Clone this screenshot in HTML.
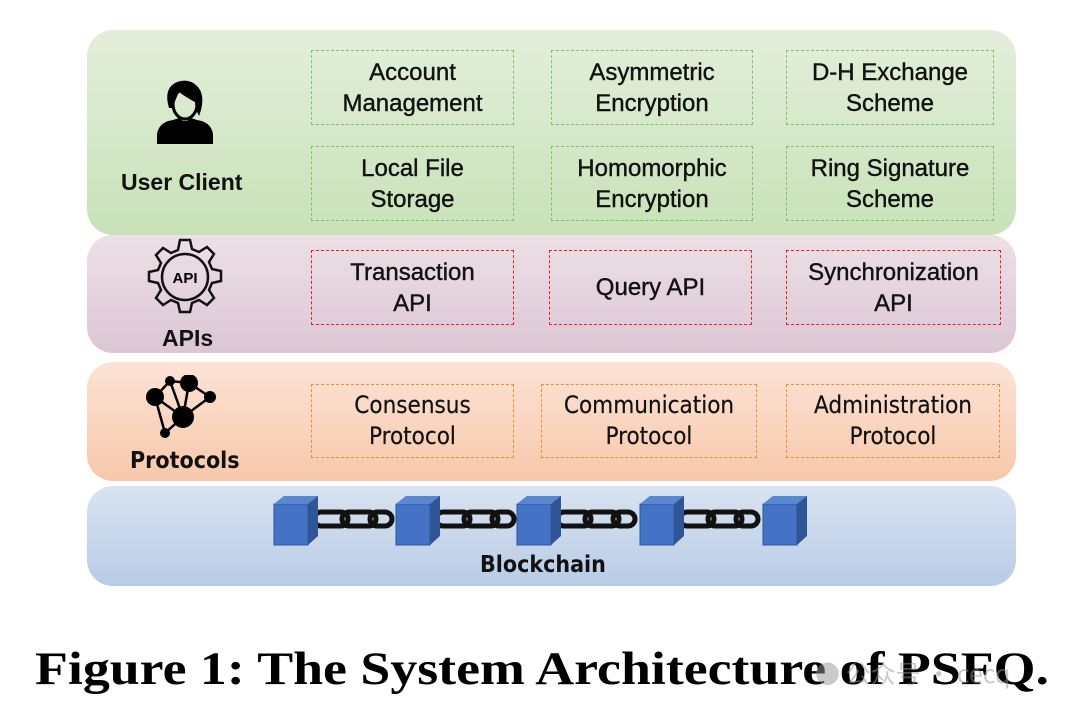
<!DOCTYPE html>
<html><head><meta charset="utf-8"><style>
body{margin:0;width:1080px;height:725px;background:#fff;position:relative;overflow:hidden;font-family:"Liberation Sans","DejaVu Sans",sans-serif}
.layer{position:absolute;left:87px;width:929px;border-radius:26px}
.box{position:absolute;display:flex;align-items:center;justify-content:center;text-align:center;font-size:24px;line-height:31px;color:#111;box-sizing:border-box;-webkit-text-stroke:0.4px #111}
.g{border:1.5px dashed #7cc36a;height:75px}
.p{border:1.5px dashed #e8212a;height:75px}
.o{border:1.5px dashed #f08a3c;height:74px;font-family:"DejaVu Sans Condensed","Liberation Sans Narrow","Liberation Sans",sans-serif;-webkit-text-stroke:0.2px #111}
.lab{position:absolute;font-weight:bold;font-size:23px;color:#111}
</style></head><body>
<div class="layer" style="top:30px;height:205px;background:linear-gradient(#e3eedb,#c8e2b8)"></div>
<div class="layer" style="top:235px;height:118px;background:linear-gradient(#ede0e6,#dcc6d4)"></div>
<div class="layer" style="top:362px;height:119px;background:linear-gradient(#fce3d6,#f7c8aa)"></div>
<div class="layer" style="top:486px;height:100px;background:linear-gradient(#d9e3f1,#b8cbe6)"></div>

<div class="box g" style="left:311px;top:50px;width:203px">Account<br>Management</div>
<div class="box g" style="left:551px;top:50px;width:202px">Asymmetric<br>Encryption</div>
<div class="box g" style="left:786px;top:50px;width:208px">D-H Exchange<br>Scheme</div>
<div class="box g" style="left:311px;top:146px;width:203px">Local File<br>Storage</div>
<div class="box g" style="left:551px;top:146px;width:202px">Homomorphic<br>Encryption</div>
<div class="box g" style="left:786px;top:146px;width:208px">Ring Signature<br>Scheme</div>

<div class="box p" style="left:311px;top:250px;width:203px">Transaction<br>API</div>
<div class="box p" style="left:549px;top:250px;width:203px">Query API</div>
<div class="box p" style="left:786px;top:250px;width:215px">Synchronization<br>API</div>

<div class="box o" style="left:311px;top:384px;width:203px">Consensus<br>Protocol</div>
<div class="box o" style="left:541px;top:384px;width:216px">Communication<br>Protocol</div>
<div class="box o" style="left:786px;top:384px;width:214px">Administration<br>Protocol</div>

<div class="lab" style="left:121px;top:169px">User Client</div>
<div class="lab" style="left:162px;top:325px">APIs</div>
<div class="lab" style="left:130px;top:448px;font-family:'DejaVu Sans Condensed','Liberation Sans',sans-serif">Protocols</div>
<div class="lab" style="left:480px;top:552px;font-family:'DejaVu Sans Condensed','Liberation Sans',sans-serif">Blockchain</div>

<svg style="position:absolute;left:155px;top:78px" width="60" height="68" viewBox="0 0 60 68">
<path d="M14 30 Q8 10 22 4 Q34 0 42 8 Q50 16 46 32 L44 38 Q40 30 40 24 Q32 20 24 14 Q20 22 18 30 Z" fill="#000"/>
<ellipse cx="30" cy="26" rx="12" ry="15" fill="none" stroke="#000" stroke-width="3"/>
<path d="M2 66 L2 56 Q4 44 18 42 L24 40 Q30 46 36 40 L42 42 Q56 44 58 56 L58 66 Z" fill="#000"/>
</svg>
<svg style="position:absolute;left:144px;top:236px" width="82" height="82" viewBox="0 0 82 82">
<g fill="none" stroke="#111" stroke-width="2.5">
<path d="M36 4h10l2 9 7 3 8-5 7 7-5 8 3 7 9 2v10l-9 2-3 7 5 8-7 7-8-5-7 3-2 9H36l-2-9-7-3-8 5-7-7 5-8-3-7-9-2V36l9-2 3-7-5-8 7-7 8 5 7-3z"/>
<circle cx="41" cy="41" r="23"/>
</g>
<text x="41" y="47" text-anchor="middle" font-size="15" font-weight="bold" font-family="Liberation Sans">API</text>
</svg>
<svg style="position:absolute;left:145px;top:375px" width="80" height="68" viewBox="0 0 80 68">
<g stroke="#000" stroke-width="2.5" fill="none">
<line x1="25" y1="6" x2="44" y2="8"/><line x1="25" y1="6" x2="10" y2="22"/><line x1="10" y1="22" x2="38" y2="42"/><line x1="44" y1="8" x2="38" y2="42"/><line x1="44" y1="8" x2="65" y2="22"/><line x1="65" y1="22" x2="38" y2="42"/><line x1="20" y1="58" x2="10" y2="22"/><line x1="20" y1="58" x2="38" y2="42"/><line x1="25" y1="6" x2="38" y2="42"/>
</g>
<g fill="#000"><circle cx="25" cy="6" r="5"/><circle cx="44" cy="8" r="9"/><circle cx="10" cy="22" r="9"/><circle cx="65" cy="22" r="6"/><circle cx="38" cy="42" r="11"/><circle cx="20" cy="58" r="5"/></g>
</svg>
<svg style="position:absolute;left:270px;top:490px" width="545" height="65" viewBox="0 0 545 65">
<defs>
<g id="ch" fill="none" stroke="#111" stroke-width="5">
<rect x="2" y="22" width="34" height="14" rx="7"/><rect x="30" y="22" width="34" height="14" rx="7"/><rect x="58" y="22" width="22" height="14" rx="7"/>
</g>
<g id="cb"><polygon points="4,14 14,6 48,6 48,46 38,55 4,55" fill="#2f5597"/><rect x="4" y="14" width="34" height="41" fill="#4472c4" stroke="#2f5597"/><polygon points="4,14 14,6 48,6 38,14" fill="#5b87d1"/></g>
</defs>
<use href="#ch" x="42"/><use href="#ch" x="164"/><use href="#ch" x="285"/><use href="#ch" x="408"/>
<use href="#cb" x="0"/><use href="#cb" x="122"/><use href="#cb" x="243"/><use href="#cb" x="366"/><use href="#cb" x="489"/>
</svg>

<div style="position:absolute;left:35px;top:642px;font-family:'Liberation Serif','DejaVu Serif',serif;font-weight:bold;font-size:47px;color:#000;white-space:nowrap;transform:scaleX(1.145);transform-origin:0 0">Figure 1: The System Architecture of PSFQ.</div>
<div style="position:absolute;left:815px;top:655px;font-family:'Noto Sans CJK SC',sans-serif;font-size:25px;color:rgba(150,150,150,0.5)">● 公众号 · cecq</div>
</body></html>
